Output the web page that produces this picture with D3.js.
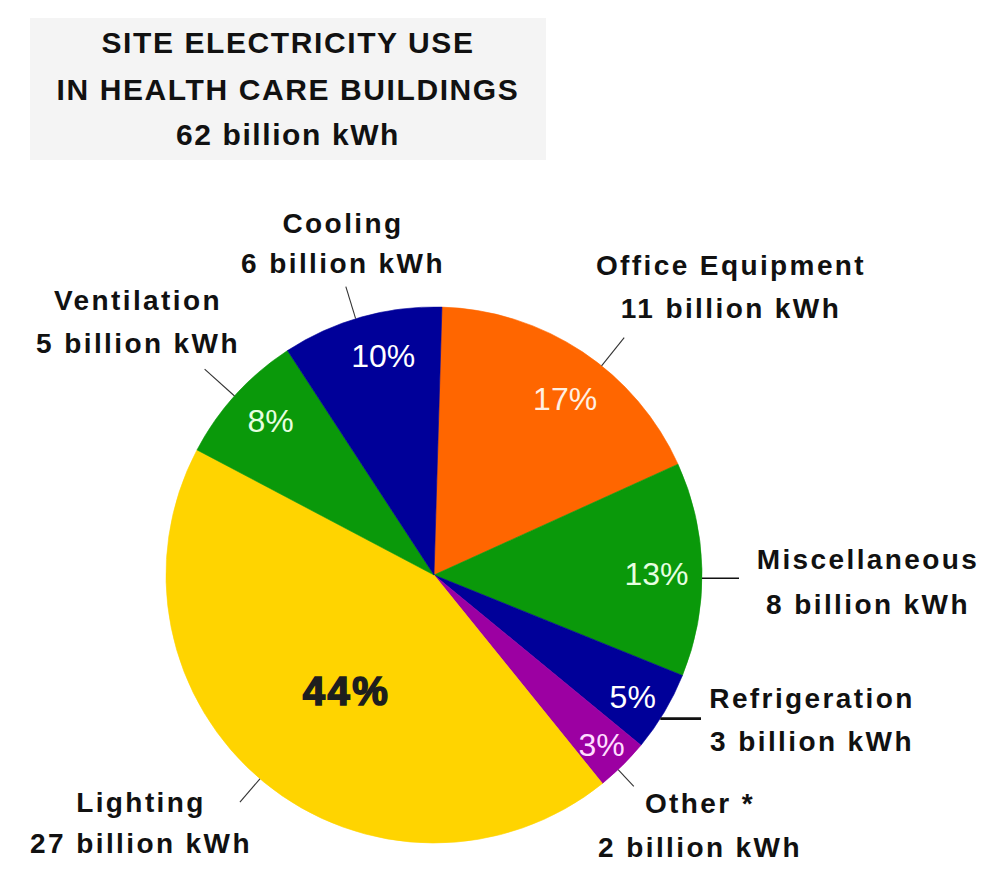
<!DOCTYPE html>
<html>
<head>
<meta charset="utf-8">
<script src="https://cdn.jsdelivr.net/npm/d3@7"></script>
<style>
  html, body { margin: 0; padding: 0; background: #ffffff; }
  svg { display: block; }
  text { font-family: "Liberation Sans", Arial, Helvetica, sans-serif; }
</style>
</head>
<body>
<div id="chart"></div>
<script>
// ---- data (clockwise from 12 o'clock) ----
const titleLines = ["SITE ELECTRICITY USE", "IN HEALTH CARE BUILDINGS", "62 billion kWh"];
const categories = ["Office Equipment", "Miscellaneous", "Refrigeration", "Other *", "Lighting", "Ventilation", "Cooling"];
const billionKWh = [11, 8, 3, 2, 27, 5, 6];
const percentLabels = ["17%", "13%", "5%", "3%", "44%", "8%", "10%"];

// ---- styles ----
const sliceColors = ["#FF6600", "#0A990A", "#000099", "#9C00A2", "#FFD400", "#0A990A", "#000099"];
const pctColors = ["#FFF0E2", "#E6FFE0", "#FFFFFF", "#FFDDFF", "#1E1E1E", "#E6FFE0", "#FFFFFF"];

const W = 986, H = 870;
const cx = 434, cy = 575, R = 268;
const startDeg = 1.7;
const rad = d => d * Math.PI / 180;

// label layout (per category, same order)
const pctLayout = [
  { r: 0.82, da: 3.0 },
  { r: 0.83, da: 0.7 },
  { r: 0.87, da: 0.8 },
  { r: 0.89, da: 0.1 },
  { r: 0.54, da: -2.3 },
  { r: 0.84, da: 1.1 },
  { r: 0.84, da: 2.7 }
];
const nameLayout = [
  { x: 731, y1: 275, y2: 318 },
  { x: 868, y1: 569, y2: 614 },
  { x: 812, y1: 708, y2: 751 },
  { x: 700, y1: 813, y2: 857 },
  { x: 141, y1: 812, y2: 853 },
  { x: 138, y1: 310, y2: 353 },
  { x: 343, y1: 233, y2: 273 }
];
// leader lines: polar (angle deg, r0, r1) or horizontal (angle, x end)
const leaderLayout = [
  { type: "p", a: 38.7, r0: 1.0, r1: 1.135, w: 1.1, c: "#333" },
  { type: "h", a: 90.7, x1: 739, w: 1.5, c: "#111" },
  { type: "h", a: 122.4, x1: 701, w: 2.6, c: "#111" },
  { type: "p", a: 136.6, r0: 1.0, r1: 1.085, w: 1.1, c: "#333" },
  { type: "p", a: 220.5, r0: 1.0, r1: 1.115, w: 1.1, c: "#333" },
  { type: "p", a: 311.9, r0: 1.0, r1: 1.15, w: 1.1, c: "#333" },
  { type: "p", a: 343.0, r0: 1.0, r1: 1.125, w: 1.1, c: "#333" }
];

const data = categories.map((c, i) => ({ name: c, value: billionKWh[i], pct: percentLabels[i], i }));

const svg = d3.select("#chart").append("svg")
  .attr("width", W).attr("height", H)
  .attr("viewBox", `0 0 ${W} ${H}`);

// ---- title box ----
svg.append("rect")
  .attr("x", 30).attr("y", 18).attr("width", 516).attr("height", 142)
  .attr("fill", "#f4f4f4");

const titleBaselines = [53, 100, 145];
svg.append("g").selectAll("text").data(titleLines).join("text")
  .attr("x", 288)
  .attr("y", (d, i) => titleBaselines[i])
  .attr("text-anchor", "middle")
  .attr("font-size", 30)
  .attr("font-weight", "bold")
  .attr("letter-spacing", "1.6px")
  .attr("fill", "#111")
  .text(d => d);

// ---- pie ----
const pie = d3.pie().value(d => d.value).sort(null)
  .startAngle(rad(startDeg)).endAngle(rad(startDeg) + 2 * Math.PI);
const arcs = pie(data);
const arc = d3.arc().innerRadius(0).outerRadius(R);

const g = svg.append("g").attr("transform", `translate(${cx},${cy})`);
g.selectAll("path.slice").data(arcs).join("path")
  .attr("class", "slice")
  .attr("d", arc)
  .attr("fill", d => sliceColors[d.data.i])
  .attr("stroke", d => sliceColors[d.data.i])
  .attr("stroke-width", 0.6);

const polar = (aDeg, r) => [r * Math.sin(rad(aDeg)), -r * Math.cos(rad(aDeg))];

// percentage labels
g.selectAll("text.pct").data(arcs).join("text")
  .attr("class", "pct")
  .each(function (d) {
    const L = pctLayout[d.data.i];
    const mid = (d.startAngle + d.endAngle) / 2 * 180 / Math.PI + L.da;
    const [x, y] = polar(mid, R * L.r);
    const big = d.data.i === 4;
    d3.select(this)
      .attr("x", x)
      .attr("y", y + (big ? 14.5 : 11.5))
      .attr("text-anchor", "middle")
      .attr("font-size", big ? 40 : 32)
      .attr("font-weight", big ? "bold" : "normal")
      .attr("letter-spacing", big ? "2.5px" : "0px")
      .attr("fill", pctColors[d.data.i])
      .attr("stroke", big ? pctColors[d.data.i] : "none")
      .attr("stroke-width", big ? 1.6 : 0)
      .text(d.data.pct);
  });

// leader lines
g.selectAll("line.leader").data(arcs).join("line")
  .attr("class", "leader")
  .each(function (d) {
    const L = leaderLayout[d.data.i];
    const [x0, y0] = polar(L.a, R * (L.r0 || 1.0));
    let x1, y1;
    if (L.type === "h") { x1 = L.x1 - cx; y1 = y0; }
    else { [x1, y1] = polar(L.a, R * L.r1); }
    d3.select(this)
      .attr("x1", x0).attr("y1", y0).attr("x2", x1).attr("y2", y1)
      .attr("stroke", L.c).attr("stroke-width", L.w);
  });

// category labels
const names = svg.append("g").selectAll("g.name").data(data).join("g").attr("class", "name");
names.append("text")
  .attr("x", d => nameLayout[d.i].x)
  .attr("y", d => nameLayout[d.i].y1)
  .attr("text-anchor", "middle")
  .attr("font-size", 28)
  .attr("font-weight", "bold")
  .attr("letter-spacing", "2.4px")
  .attr("fill", "#111")
  .text(d => d.name);
names.append("text")
  .attr("x", d => nameLayout[d.i].x)
  .attr("y", d => nameLayout[d.i].y2)
  .attr("text-anchor", "middle")
  .attr("font-size", 28)
  .attr("font-weight", "bold")
  .attr("letter-spacing", "2.4px")
  .attr("fill", "#111")
  .text(d => `${d.value} billion kWh`);
</script>
</body>
</html>
